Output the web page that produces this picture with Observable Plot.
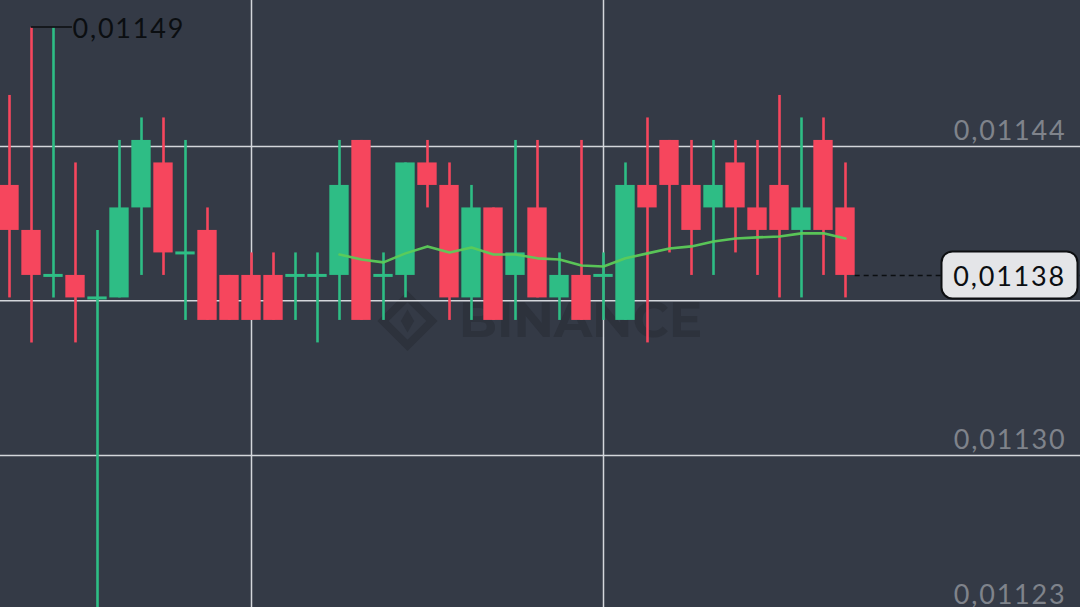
<!DOCTYPE html>
<html>
<head>
<meta charset="utf-8">
<script src="https://cdn.jsdelivr.net/npm/d3@7"></script>
<script src="https://cdn.jsdelivr.net/npm/@observablehq/plot@0.6"></script>
<style>
  html, body { margin: 0; padding: 0; background: #343a46; overflow: hidden; }
  #chart svg { display: block; }
  .lbl text, text.lbl { letter-spacing: 1.8px; }
</style>
</head>
<body>
<div id="chart"></div>
<script>
// ---- data ----
const opens  = [0.01142,0.01140,0.01138,0.01138,0.01137,0.01137,0.01141,0.01143,0.01139,0.01140,
                0.01138,0.01138,0.01138,0.01138,0.01138,0.01138,0.01144,0.01138,0.01138,0.01143,
                0.01142,0.01137,0.01141,0.01138,0.01141,0.01137,0.01138,0.01138,0.01136,0.01142,
                0.01144,0.01142,0.01141,0.01143,0.01141,0.01142,0.01140,0.01144,0.01141];
const highs  = [0.01146,0.01149,0.01149,0.01143,0.01140,0.01144,0.01145,0.01145,0.01144,0.01141,
                0.01138,0.01139,0.01139,0.01139,0.01139,0.01144,0.01144,0.01139,0.01143,0.01144,
                0.01143,0.01142,0.01141,0.01144,0.01144,0.01139,0.01144,0.01139,0.01143,0.01145,
                0.01144,0.01144,0.01144,0.01144,0.01144,0.01146,0.01145,0.01145,0.01143];
const lows   = [0.01137,0.01135,0.01137,0.01135,0.01123,0.01137,0.01138,0.01138,0.01136,0.01136,
                0.01136,0.01136,0.01136,0.01136,0.01135,0.01136,0.01136,0.01136,0.01137,0.01141,
                0.01136,0.01136,0.01136,0.01136,0.01137,0.01136,0.01136,0.01136,0.01136,0.01135,
                0.01139,0.01138,0.01138,0.01139,0.01138,0.01137,0.01137,0.01138,0.01137];
const closes = [0.01140,0.01138,0.01138,0.01137,0.01137,0.01141,0.01144,0.01139,0.01139,0.01136,
                0.01136,0.01136,0.01136,0.01138,0.01138,0.01142,0.01136,0.01138,0.01143,0.01142,
                0.01137,0.01141,0.01136,0.01139,0.01137,0.01138,0.01136,0.01138,0.01142,0.01141,
                0.01142,0.01140,0.01142,0.01141,0.01140,0.01140,0.01141,0.01140,0.01138];
// moving average, starting at candle 15
const maStart = 15;
const maValues = [0.0113893,0.0113871,0.0113858,0.0113898,0.0113929,0.0113902,0.0113924,0.0113893,
                  0.0113893,0.0113876,0.0113871,0.0113844,0.0113840,0.0113876,0.0113898,0.0113920,
                  0.0113929,0.0113951,0.0113964,0.0113969,0.0113973,0.0113987,0.0113987,0.0113964];
// price axis gridlines and labels
const yTicks = [0.0114373, 0.0113687, 0.0113000, 0.0112313];
const yTickLabels = ["0,01144", "0,01137", "0,01130", "0,01123"];
// vertical gridlines (candle index)
const xGrid = [11, 27];
const yDomain = [0.0112324, 0.0115022];
const fmt = v => v.toFixed(5).replace(".", ",");

// ---- build tables ----
const candles = opens.map((o, i) => ({i, open: o, high: highs[i], low: lows[i], close: closes[i]}));
const ma = maValues.map((v, k) => ({i: maStart + k, v}));
const ticks = yTicks.map((v, k) => ({v, label: yTickLabels[k]}));
const UP = "#2ebd85", DOWN = "#f6465d";
const col = d => d.close >= d.open ? UP : DOWN;
const half = 0.44;
const last = candles[candles.length - 1];
const maxCandle = candles[d3.maxIndex(highs)];
const FONT = "Lato, 'Open Sans', sans-serif";

const W = 1080, H = 607;
const xDomain = [-9/22, (W - 9)/22];

const plot = Plot.plot({
  width: W, height: H,
  marginTop: 0, marginBottom: 0, marginLeft: 0, marginRight: 0,
  x: {type: "linear", domain: xDomain, axis: null},
  y: {type: "linear", domain: yDomain, axis: null},
  style: {background: "#343a46", fontFamily: FONT, overflow: "hidden"},
  marks: [
    // watermark
    Plot.dot([0], {frameAnchor: "middle", dx: -133, dy: 17, symbol: "diamond2", r: 22, stroke: "#2d323c", strokeWidth: 8, fill: "none"}),
    Plot.dot([0], {frameAnchor: "middle", dx: -133, dy: 17, symbol: "diamond", r: 7, fill: "#2d323c"}),
    Plot.text(["BINANCE"], {frameAnchor: "middle", dx: 40, dy: 17, text: d => d, fontSize: 50, fontWeight: "bold", fill: "#2d323c", fontFamily: "Montserrat, Lato, sans-serif"}),
    // grid
    Plot.ruleY(yTicks, {stroke: "#d3d6db", strokeWidth: 1.5}),
    Plot.ruleX(xGrid, {stroke: "#d3d6db", strokeWidth: 1.5}),
    Plot.text(ticks, {y: "v", text: "label", frameAnchor: "right", dx: -14, dy: -15, textAnchor: "end", fill: "#7f838b", fontSize: 27, className: "lbl"}),
    // candles
    Plot.ruleX(candles, {x: "i", y1: "low", y2: "high", stroke: col, strokeWidth: 2.6, clip: true}),
    Plot.rect(candles, {x1: d => d.i - half, x2: d => d.i + half, y1: "open", y2: "close", fill: col}),
    Plot.ruleY(candles.filter(d => d.open === d.close), {y: "close", x1: d => d.i - half, x2: d => d.i + half, stroke: col, strokeWidth: 3}),
    // moving average
    Plot.line(ma, {x: "i", y: "v", stroke: "#5ccb58", strokeWidth: 2.6, strokeOpacity: 0.95}),
    // last price dashed line
    Plot.ruleY([last], {y: "close", x1: d => d.i + half, x2: xDomain[1], stroke: "#0b0e11", strokeWidth: 1.5, strokeDasharray: "5,4"}),
    // last price box
    (index, scales, values, dimensions) => {
      const y = scales.y(last.close);
      const w = dimensions.width;
      const g = d3.create("svg:g");
      g.append("rect").attr("x", w - 138.5).attr("y", y - 23.5).attr("width", 136).attr("height", 47)
        .attr("rx", 11).attr("fill", "#e4e5e8").attr("stroke", "#0d0f12").attr("stroke-width", 2);
      g.append("text").attr("class", "lbl").attr("x", w - 14).attr("y", y + 1).attr("text-anchor", "end")
        .attr("dominant-baseline", "central").attr("font-size", 27).attr("font-family", FONT)
        .attr("fill", "#0b0e11").text(fmt(last.close));
      return g.node();
    },
    // max high marker
    Plot.ruleY([maxCandle], {y: "high", x1: "i", x2: d => d.i + 1.86, stroke: "#0b0e11", strokeWidth: 1.5, dy: -1}),
    Plot.text([maxCandle], {x: "i", y: "high", text: d => fmt(d.high), dx: 41, dy: 1, textAnchor: "start", fill: "#0b0e11", fontSize: 27, className: "lbl"})
  ]
});
document.getElementById("chart").appendChild(plot);
</script>
</body>
</html>
